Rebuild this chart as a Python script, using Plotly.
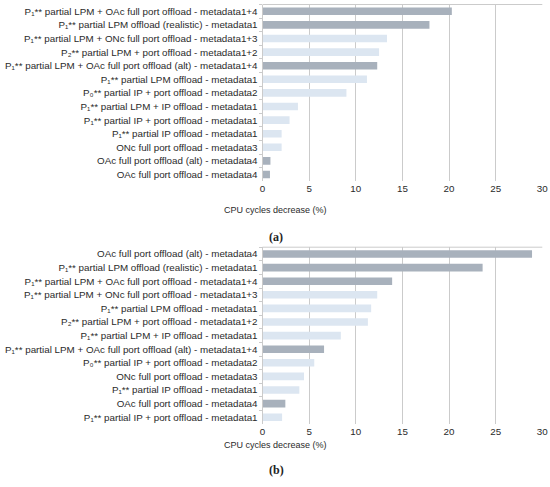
import plotly.graph_objects as go
from plotly.subplots import make_subplots

# (a) top chart, listed top to bottom
labels_a = [
    "P\u2081** partial LPM + OAc full port offload - metadata1+4",
    "P\u2081** partial LPM offload (realistic) - metadata1",
    "P\u2081** partial LPM + ONc full port offload - metadata1+3",
    "P\u2082** partial LPM + port offload - metadata1+2",
    "P\u2081** partial LPM + OAc full port offload (alt) - metadata1+4",
    "P\u2081** partial LPM offload - metadata1",
    "P\u2080** partial IP + port offload - metadata2",
    "P\u2081** partial LPM + IP offload - metadata1",
    "P\u2081** partial IP + port offload - metadata1",
    "P\u2081** partial IP offload - metadata1",
    "ONc full port offload - metadata3",
    "OAc full port offload (alt) - metadata4",
    "OAc full port offload - metadata4",
]
values_a = [20.3, 17.9, 13.35, 12.5, 12.3, 11.2, 9.0, 3.8, 2.9, 2.05, 2.05, 0.85, 0.8]
dark_a = [True, True, False, False, True, False, False, False, False, False, False, True, True]

# (b) bottom chart, listed top to bottom
labels_b = [
    "OAc full port offload (alt) - metadata4",
    "P\u2081** partial LPM offload (realistic) - metadata1",
    "P\u2081** partial LPM + OAc full port offload - metadata1+4",
    "P\u2081** partial LPM + ONc full port offload - metadata1+3",
    "P\u2081** partial LPM offload - metadata1",
    "P\u2082** partial LPM + port offload - metadata1+2",
    "P\u2081** partial LPM + IP offload - metadata1",
    "P\u2081** partial LPM + OAc full port offload (alt) - metadata1+4",
    "P\u2080** partial IP + port offload - metadata2",
    "ONc full port offload - metadata3",
    "P\u2081** partial IP offload - metadata1",
    "OAc full port offload - metadata4",
    "P\u2081** partial IP + port offload - metadata1",
]
values_b = [28.9, 23.6, 13.9, 12.3, 11.65, 11.3, 8.4, 6.6, 5.55, 4.45, 3.95, 2.45, 2.1]
dark_b = [True, True, True, False, False, False, False, True, False, False, False, True, False]

x_ticks = [0, 5, 10, 15, 20, 25, 30]

DARK = "#a8b1bc"
LIGHT = "#dce6f1"
GRID = "#cbcbcb"
TEXT = "#2a2a2a"

fig = make_subplots(rows=2, cols=1)

for row, (labels, values, dark) in enumerate([(labels_a, values_a, dark_a),
                                              (labels_b, values_b, dark_b)], start=1):
    fig.add_trace(go.Bar(
        x=values, y=labels, orientation="h",
        marker=dict(color=[DARK if d else LIGHT for d in dark], line=dict(width=0)),
        width=0.56, showlegend=False, hoverinfo="x+y",
    ), row=row, col=1)

x_dom = [262.5 / 550, 542.3 / 550]
axis_font = dict(family="Liberation Sans, Arial, sans-serif", size=9.8, color=TEXT)

fig.update_layout(
    width=550, height=487,
    margin=dict(l=0, r=0, t=0, b=0),
    paper_bgcolor="white", plot_bgcolor="white",
    xaxis=dict(domain=x_dom, anchor="y"),
    xaxis2=dict(domain=x_dom, anchor="y2"),
    yaxis=dict(domain=[1 - 181.3 / 487, 1 - 4.5 / 487], anchor="x"),
    yaxis2=dict(domain=[1 - 424 / 487, 1 - 247.2 / 487], anchor="x2"),
)

fig.update_xaxes(range=[0, 30], tickvals=x_ticks, showgrid=True, gridcolor=GRID, gridwidth=1,
                 zeroline=False, showline=False, ticks="", tickfont=axis_font,
                 automargin=False, fixedrange=True)
fig.update_yaxes(autorange="reversed", showline=True, linecolor=GRID, linewidth=1,
                 ticks="outside", tickson="boundaries", ticklen=3, tickcolor=GRID,
                 showgrid=False, tickfont=axis_font, ticklabelstandoff=2,
                 automargin=False, fixedrange=True)

# top frame line of each plot
for xref, yref in [("x domain", "y domain"), ("x2 domain", "y2 domain")]:
    fig.add_shape(type="line", xref=xref, yref=yref, x0=0, x1=1, y0=1, y1=1,
                  line=dict(color=GRID, width=1))

title_font = dict(family="Liberation Sans, Arial, sans-serif", size=9, color=TEXT)
cap_font = dict(family="Liberation Serif, Times New Roman, serif", size=12, color="#222222")

fig.add_annotation(text="CPU cycles decrease (%)", xref="paper", yref="paper",
                   x=275 / 550, y=1 - 210 / 487, showarrow=False, font=title_font)
fig.add_annotation(text="<b>(a)</b>", xref="paper", yref="paper",
                   x=276 / 550, y=1 - 237 / 487, showarrow=False, font=cap_font)
fig.add_annotation(text="CPU cycles decrease (%)", xref="paper", yref="paper",
                   x=275 / 550, y=1 - 452 / 487, showarrow=False, font=title_font)
fig.add_annotation(text="<b>(b)</b>", xref="paper", yref="paper",
                   x=276 / 550, y=1 - 479 / 487, showarrow=False, font=cap_font)

# drop the default page margin so the figure sits at the window's corner
fig.write_html("out.html", config={"displayModeBar": False},
               post_script="document.body.style.margin='0';")
